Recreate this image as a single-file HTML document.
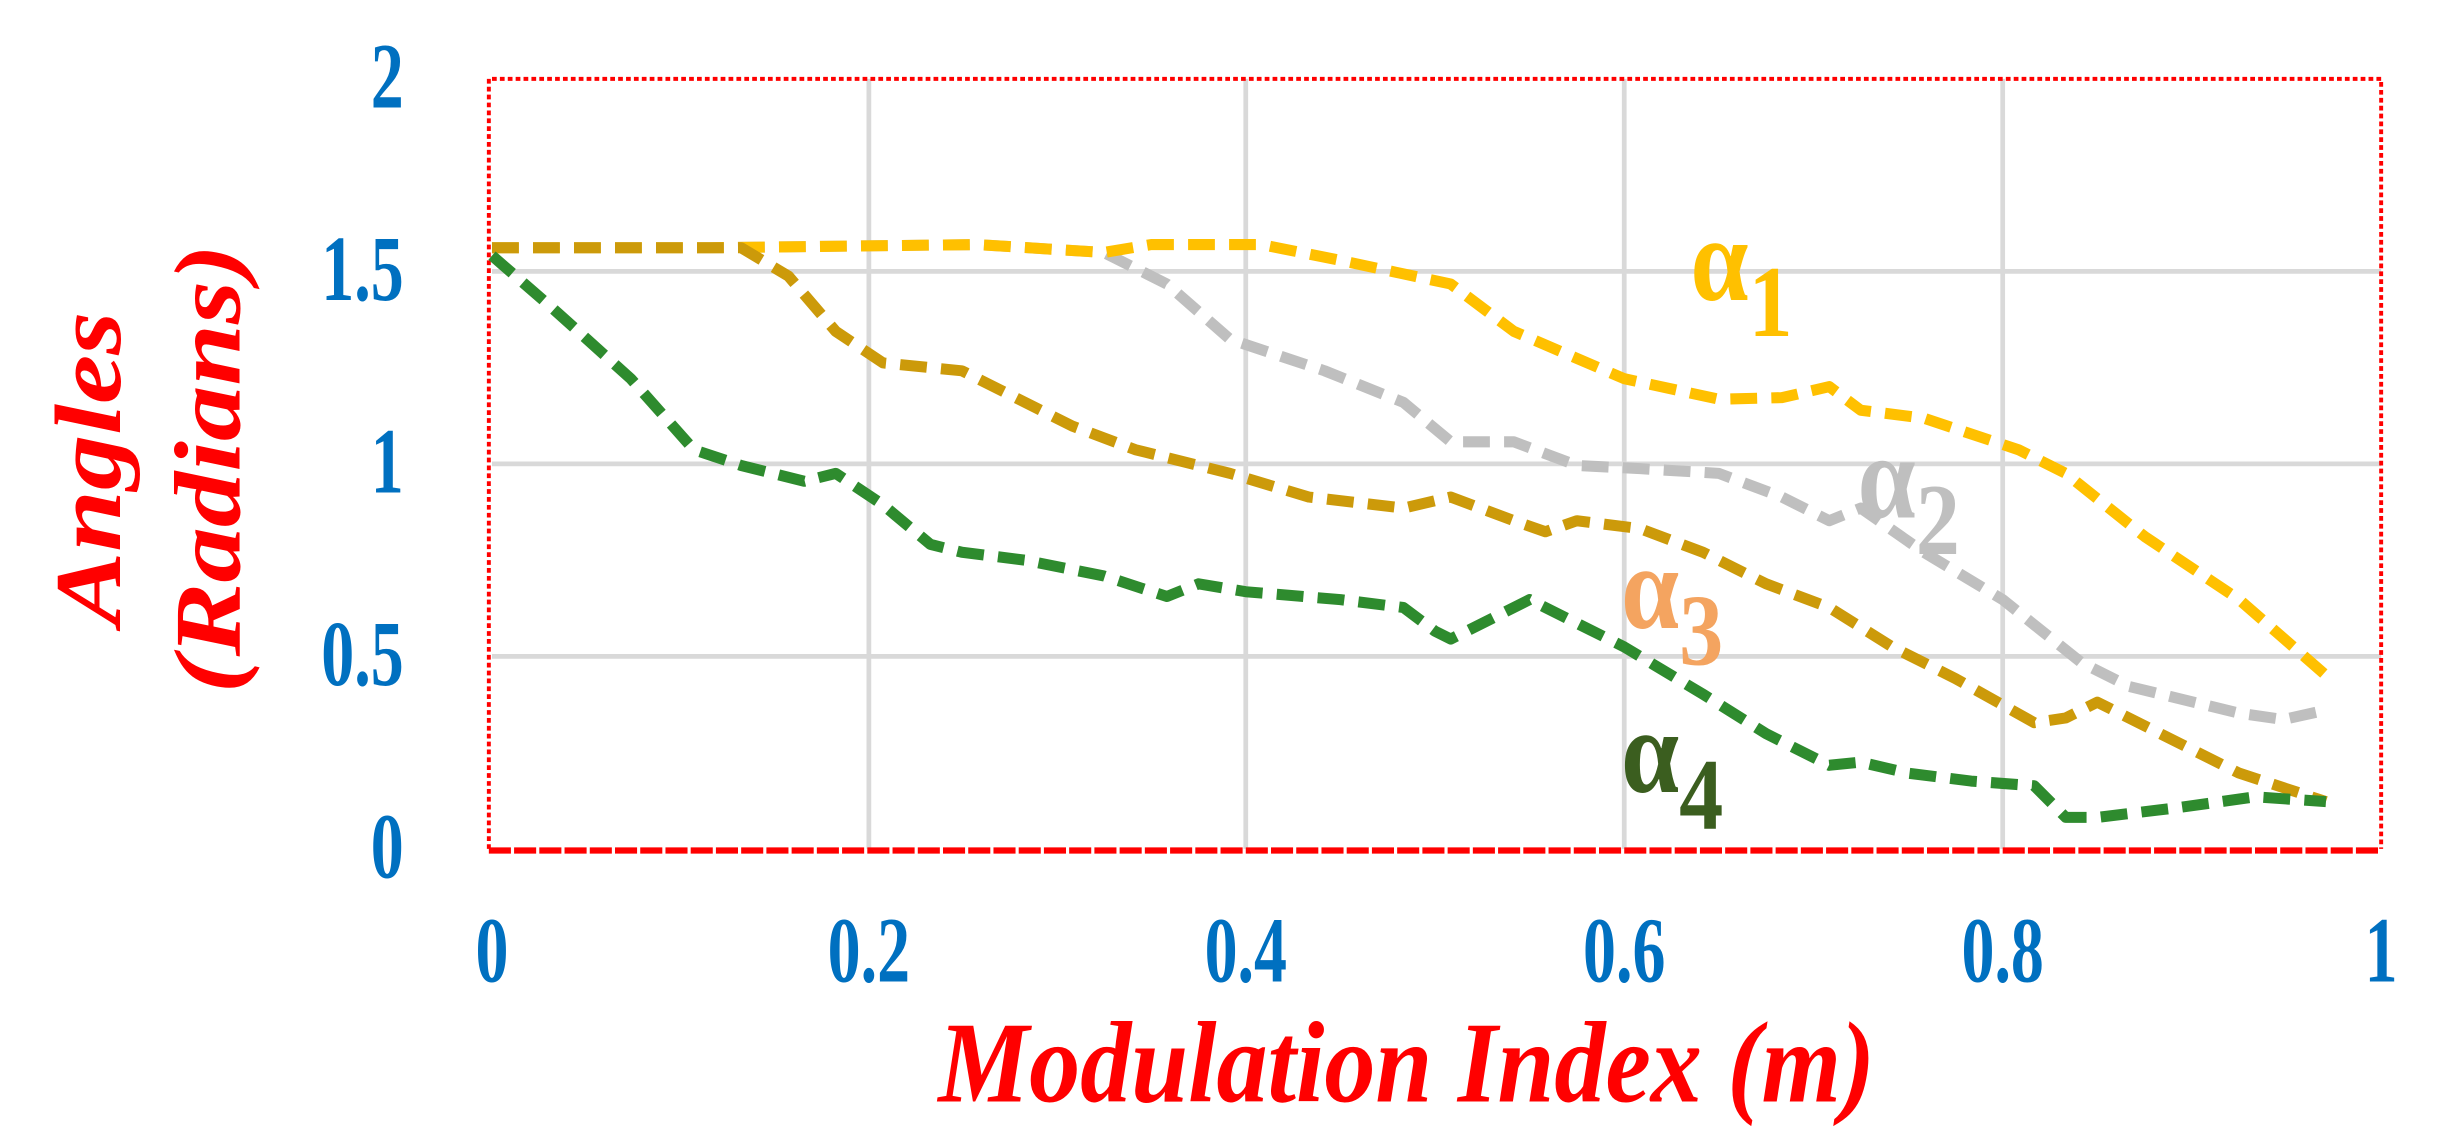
<!DOCTYPE html>
<html><head><meta charset="utf-8"><style>
html,body{margin:0;padding:0;background:#fff;}
svg{display:block;}
text{font-family:"Liberation Serif",serif;font-weight:bold;}
</style></head><body>
<svg width="2460" height="1144" viewBox="0 0 1560 725" preserveAspectRatio="none" xmlns="http://www.w3.org/2000/svg">
<rect width="1560" height="725" fill="#fff"/>
<g stroke="#D9D9D9" stroke-width="3">
<line x1="551" y1="50" x2="551" y2="538"/><line x1="790" y1="50" x2="790" y2="538"/>
<line x1="1030" y1="50" x2="1030" y2="538"/><line x1="1270" y1="50" x2="1270" y2="538"/>
<line x1="312" y1="172" x2="1510" y2="172"/><line x1="312" y1="294" x2="1510" y2="294"/>
<line x1="312" y1="416" x2="1510" y2="416"/>
</g>
<g fill="none" stroke="red" stroke-width="2.5" stroke-dasharray="3 2">
<polyline points="310,538 310,50 1510,50 1510,538"/>
</g>
<line x1="310" y1="539" x2="1510" y2="539" stroke="red" stroke-width="4" stroke-dasharray="14 2"/>
<g fill="none" stroke-width="7" stroke-dasharray="17 9" stroke-linejoin="round">
<polyline stroke="#BFBFBF" points="312,157 450,157 620,155 700,160 740,180 780,215 840,235 890,255 920,280 960,280 1000,295 1040,297 1090,300 1130,315 1160,330 1180,322 1220,350 1270,380 1320,420 1350,435 1420,452 1448,456 1475,450"/>
<polyline stroke="#FFC000" points="312,157 450,157 620,155 700,160 730,155 800,155 850,165 920,180 960,210 1030,240 1090,253 1130,252 1160,245 1180,260 1220,265 1280,285 1310,300 1360,340 1420,380 1475,428"/>
<polyline stroke="#CC9A0A" points="312,157 470,157 500,175 530,210 560,230 610,235 640,250 680,270 720,285 780,300 830,315 890,322 920,315 960,330 980,337 1000,330 1040,335 1080,350 1120,370 1160,385 1200,410 1240,430 1290,458 1310,455 1330,445 1370,465 1420,490 1475,508"/>
<polyline stroke="#2E8B2E" points="312,162 350,195 400,240 440,285 470,295 510,305 530,300 560,320 590,345 610,350 650,355 700,365 740,378 760,370 790,375 850,380 890,385 910,400 920,405 950,390 970,380 1000,395 1030,410 1080,440 1120,465 1160,485 1180,483 1210,490 1250,495 1290,498 1310,518 1330,518 1380,512 1430,505 1475,508"/>
</g>
<g fill="#0070C0" font-size="44" text-anchor="end">
<text transform="translate(256,68) scale(0.95,1.35)">2</text>
<text transform="translate(256,190) scale(0.95,1.35)">1.5</text>
<text transform="translate(256,312) scale(0.95,1.35)">1</text>
<text transform="translate(256,434) scale(0.95,1.35)">0.5</text>
<text transform="translate(256,556) scale(0.95,1.35)">0</text>
</g>
<g fill="#0070C0" font-size="44" text-anchor="middle">
<text transform="translate(312,622) scale(0.95,1.35)">0</text>
<text transform="translate(551,622) scale(0.95,1.35)">0.2</text>
<text transform="translate(790,622) scale(0.95,1.35)">0.4</text>
<text transform="translate(1030,622) scale(0.95,1.35)">0.6</text>
<text transform="translate(1270,622) scale(0.95,1.35)">0.8</text>
<text transform="translate(1510,622) scale(0.95,1.35)">1</text>
</g>
<text transform="translate(892,698) scale(1.2,1.35)" fill="red" font-size="54" font-style="italic" text-anchor="middle">Modulation Index (m)</text>
<g fill="red" font-size="52" font-style="italic" text-anchor="middle">
<text transform="translate(76,297) rotate(-90) scale(1.35,1.15)">Angles</text>
<text transform="translate(152,297) rotate(-90) scale(1.35,1.15)">(Radians)</text>
</g>
<g font-size="66">
<text transform="translate(1072,190) scale(1,1.15)" fill="#FFC000">α<tspan font-size="56" dy="20">1</tspan></text>
<text transform="translate(1178,328) scale(1,1.15)" fill="#BFBFBF">α<tspan font-size="56" dy="20">2</tspan></text>
<text transform="translate(1028,398) scale(1,1.15)" fill="#F4A460">α<tspan font-size="56" dy="20">3</tspan></text>
<text transform="translate(1028,502) scale(1,1.15)" fill="#3B5E1F">α<tspan font-size="56" dy="20">4</tspan></text>
</g>
</svg>
</body></html>
